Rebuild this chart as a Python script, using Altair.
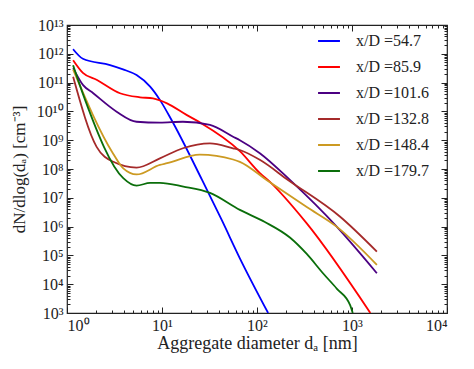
import altair as alt
import pandas as pd

# ---- data (diameter in nm, log10 of dN/dlog(da)) ----
series_labels = ["x/D =54.7", "x/D =85.9", "x/D =101.6", "x/D =132.8", "x/D =148.4", "x/D =179.7"]
series_colors = ["#0000ff", "#ff0000", "#4b0082", "#a52a2a", "#cc9a22", "#0a6e0a"]

d_547 = [1.16, 1.47, 2.84, 3.89, 5.4, 7.5, 9.5, 12.6, 26.4, 42.5, 66, 131]
e_547 = [12.16, 11.83, 11.61, 11.46, 11.26, 10.86, 10.40, 9.70, 7.62, 6.23, 4.9, 3.0]

d_859 = [1.16, 1.47, 2.07, 3.61, 5.87, 8.04, 11.3, 18.3, 25, 66, 108, 130, 334, 1560]
e_859 = [11.78, 11.34, 11.09, 10.63, 10.49, 10.45, 10.28, 9.87, 9.62, 8.62, 7.85, 7.62, 6.11, 3.0]

d_1016 = [1.16, 1.47, 1.89, 3.33, 5.4, 9.5, 16.6, 32, 56, 66, 108, 222, 694, 1828]
e_1016 = [11.5, 10.92, 10.63, 9.99, 9.64, 9.61, 9.64, 9.53, 9.12, 9.0, 8.54, 7.62, 5.99, 4.38]

d_1328 = [1.16, 2.05, 3.07, 5.4, 9.5, 16.6, 32, 56, 66, 108, 212, 745, 1828]
e_1328 = [11.2, 8.77, 8.25, 8.05, 8.37, 8.72, 8.89, 8.72, 8.66, 8.31, 7.62, 6.35, 5.13]

d_1484 = [1.16, 3.05, 3.91, 5.4, 9.5, 11.3, 25, 56, 66, 126, 334, 694, 1828]
e_1484 = [11.45, 8.54, 8.02, 7.81, 8.14, 8.20, 8.50, 8.33, 8.25, 7.62, 6.68, 5.99, 4.67]

d_1797 = [1.16, 1.55, 3.91, 5.4, 7.5, 9.5, 16.8, 32, 66, 121, 222, 334, 495, 694, 953, 1018]
e_1797 = [11.6, 10.4, 7.68, 7.42, 7.52, 7.52, 7.39, 7.17, 6.58, 6.16, 5.62, 5.05, 4.38, 3.84, 3.28, 3.0]

all_d = [d_547, d_859, d_1016, d_1328, d_1484, d_1797]
all_e = [e_547, e_859, e_1016, e_1328, e_1484, e_1797]

x_major = [1, 10, 100, 1000, 10000]
x_major_labels = ["10⁰", "10¹", "10²", "10³", "10⁴"]
y_major = [1e3, 1e4, 1e5, 1e6, 1e7, 1e8, 1e9, 1e10, 1e11, 1e12, 1e13]
y_major_labels = ["10³", "10⁴", "10⁵", "10⁶", "10⁷", "10⁸", "10⁹", "10¹⁰", "10¹¹", "10¹²", "10¹³"]
x_minor = [float(m * 10 ** k) for k in range(0, 4) for m in range(2, 10)]
y_minor = [m * 10.0 ** k for k in range(3, 13) for m in range(2, 10)]

rows = []
for lab, ds, es in zip(series_labels, all_d, all_e):
    for d, e in zip(ds, es):
        rows.append({"series": lab, "d": d, "n": 10.0 ** e})
df = pd.DataFrame(rows)

W, H = 380, 288
FONT = "Liberation Serif"
INK = "#222222"


def label_expr(vals, labs):
    expr = "''"
    for v, l in zip(vals, labs):
        expr = f"datum.value == {v!r} ? '{l}' : ({expr})"
    return expr


xscale = alt.Scale(type="log", domain=[1, 1e4], nice=False)
yscale = alt.Scale(type="log", domain=[1e3, 1e13], nice=False)

base = alt.Chart(df)

lines = base.mark_line(strokeWidth=1.8, clip=True, interpolate="monotone").encode(
    x=alt.X("d:Q", scale=xscale, axis=alt.Axis(
        values=x_major, labelExpr=label_expr(x_major, x_major_labels),
        ticks=False, domain=False, grid=False, labelPadding=4,
        labelFont=FONT, labelFontSize=16, labelColor=INK,
        title="Aggregate diameter dₐ [nm]", titleFont=FONT, titleFontSize=18,
        titleFontWeight="normal", titleColor=INK, titlePadding=1)),
    y=alt.Y("n:Q", scale=yscale, axis=alt.Axis(
        values=y_major, labelExpr=label_expr(y_major, y_major_labels),
        ticks=False, domain=False, grid=False, labelPadding=4,
        labelFont=FONT, labelFontSize=16, labelColor=INK,
        title="dN/dlog(dₐ) [cm⁻³]", titleFont=FONT, titleFontSize=17,
        titleFontWeight="normal", titleColor=INK, titlePadding=8)),
    color=alt.Color("series:N", scale=alt.Scale(domain=series_labels, range=series_colors),
                    legend=alt.Legend(orient="none", legendX=250, legendY=4, title=None,
                                      symbolType="stroke", symbolSize=480, symbolStrokeWidth=2,
                                      labelFont=FONT, labelFontSize=16, labelColor=INK,
                                      labelOffset=15, rowPadding=6, padding=0)),
)


def tick_layer(xorient, yorient, xvals, yvals, size):
    return base.mark_line(opacity=0).encode(
        x=alt.X("d:Q", scale=xscale, axis=alt.Axis(
            orient=xorient, offset=-H, values=xvals, tickSize=size, labels=False,
            domain=False, grid=False, title=None, tickColor=INK, tickWidth=1)),
        y=alt.Y("n:Q", scale=yscale, axis=alt.Axis(
            orient=yorient, offset=-W, values=yvals, tickSize=size, labels=False,
            domain=False, grid=False, title=None, tickColor=INK, tickWidth=1)),
    )


chart = alt.layer(
    lines,
    tick_layer("top", "right", x_major, y_major, 6),
    tick_layer("bottom", "left", x_major, y_major, 6),
    tick_layer("top", "right", x_minor, y_minor, 3),
    tick_layer("bottom", "left", x_minor, y_minor, 3),
).resolve_axis(x="independent", y="independent").properties(
    width=W, height=H,
    autosize=alt.AutoSizeParams(type="none"),
    padding={"left": 59, "top": 17, "right": 19, "bottom": 48},
).configure_view(stroke=INK, strokeWidth=1.2)

chart.save("out.html", embed_options={"renderer": "svg", "actions": False})
